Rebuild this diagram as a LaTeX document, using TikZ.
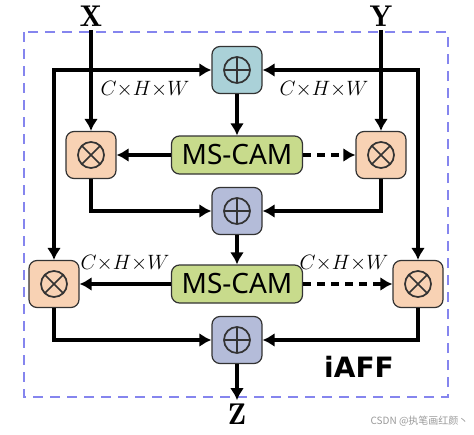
\documentclass[tikz,border=0pt]{standalone}
\usepackage{amsmath}
\usepackage{fontspec}
\setsansfont{Noto Sans}
\newfontfamily\namefont{DejaVu Sans}
\newfontfamily\cjkfont{Noto Sans CJK SC}
\usepackage{xcolor}
\usepackage{tikz}
\usetikzlibrary{arrows.meta, positioning, shapes}

\definecolor{addteal}{HTML}{AAD1D8}
\definecolor{addgray}{HTML}{B4BCD9}
\definecolor{muloran}{HTML}{F8D2B4}
\definecolor{camgreen}{HTML}{C8DB8C}
\definecolor{boxblue}{HTML}{8585EE}

\tikzset{
  opbox/.style={draw=black!80, line width=1.2pt, rounded corners=8pt,
    minimum width=50pt, minimum height=47pt, inner sep=0pt},
  addbox/.style={opbox, path picture={
      \draw[line width=1.7pt] (path picture bounding box.center) circle (13pt);
      \draw[line width=1.7pt] ([xshift=-13pt]path picture bounding box.center) -- ++(26pt,0);
      \draw[line width=1.7pt] ([yshift=-13pt]path picture bounding box.center) -- ++(0,26pt);}},
  mulbox/.style={opbox, fill=muloran, path picture={
      \draw[line width=1.7pt] (path picture bounding box.center) circle (13pt);
      \draw[line width=1.7pt] ([shift={(-9.2pt,-9.2pt)}]path picture bounding box.center) -- ++(18.4pt,18.4pt);
      \draw[line width=1.7pt] ([shift={(-9.2pt,9.2pt)}]path picture bounding box.center) -- ++(18.4pt,-18.4pt);}},
  cambox/.style={draw=black!80, line width=1.2pt, rounded corners=8pt, fill=camgreen,
    minimum width=131pt, minimum height=38pt, inner sep=0pt,
    font=\sffamily\fontsize{28}{28}\selectfont},
  flow/.style={line width=3.2pt, -{Latex[length=12pt,width=14pt]}},
  twoway/.style={line width=3.2pt, {Latex[length=12pt,width=14pt]}-{Latex[length=12pt,width=14pt]}},
  dimlabel/.style={font=\fontsize{19.5}{19.5}\selectfont},
  iolabel/.style={font=\fontsize{30}{30}\selectfont}
}

\begin{document}
\begin{tikzpicture}[x=1pt, y=-1pt]
      \useasboundingbox (0,0) rectangle (474,434);

      % Dashed frame of the module
      \draw[boxblue, line width=1.8pt, dash pattern=on 10pt off 7pt] (24,32) rectangle (448,397);

      % Inputs and output
      \node[iolabel] (inX) at (91,16) {$\mathbf{X}$};
      \node[iolabel] (inY) at (381,16) {$\mathbf{Y}$};
      \node[iolabel] (outZ) at (237,414) {$\mathbf{Z}$};

      % First stage
      \node[addbox, fill=addteal] (add1) at (237,70) {};
      \node[mulbox] (mul1) at (91,155) {};
      \node[mulbox] (mul2) at (381,155) {};
      \node[cambox] (cam1) at (237,155) {MS-CAM};
      \node[addbox, fill=addgray] (add2) at (237,211) {};

      % Second stage
      \node[mulbox] (mul3) at (54,284) {};
      \node[mulbox] (mul4) at (418,284) {};
      \node[cambox] (cam2) at (237,284) {MS-CAM};
      \node[addbox, fill=addgray] (add3) at (237,340) {};

      % Input branches
      \draw[flow] (inX) -- (mul1);
      \draw[flow] (inY) -- (mul2);
      \draw[twoway] (add1.west) -| (mul3.north);
      \draw[twoway] (add1.east) -| (mul4.north);

      % First attention
      \draw[flow] (add1) -- (cam1);
      \draw[flow] (cam1) -- (mul1);
      \draw[flow, dash pattern=on 8pt off 6pt] (cam1) -- (mul2);
      \draw[flow] (mul1.south) |- (add2.west);
      \draw[flow] (mul2.south) |- (add2.east);

      % Second attention
      \draw[flow] (add2) -- (cam2);
      \draw[flow] (cam2) -- (mul3);
      \draw[flow, dash pattern=on 8pt off 6pt] (cam2) -- (mul4);
      \draw[flow] (mul3.south) |- (add3.west);
      \draw[flow] (mul4.south) |- (add3.east);
      \draw[flow] (add3) -- (outZ);

      % Size labels
      \node[dimlabel] (dimA) at (145,89) {$C{\times}H{\times}W$};
      \node[dimlabel] (dimB) at (324,89) {$C{\times}H{\times}W$};
      \node[dimlabel] (dimC) at (125,263) {$C{\times}H{\times}W$};
      \node[dimlabel] (dimD) at (344,263) {$C{\times}H{\times}W$};

      % Module name and watermark
      \node[font=\namefont\bfseries\fontsize{28}{28}\selectfont] (name) at (359,367) {iAFF};
      \node[font=\cjkfont\fontsize{10}{10}\selectfont, text=black!40, anchor=east] (mark) at (472,421) {CSDN @执笔画红颜丶};
    \end{tikzpicture}
\end{document}
